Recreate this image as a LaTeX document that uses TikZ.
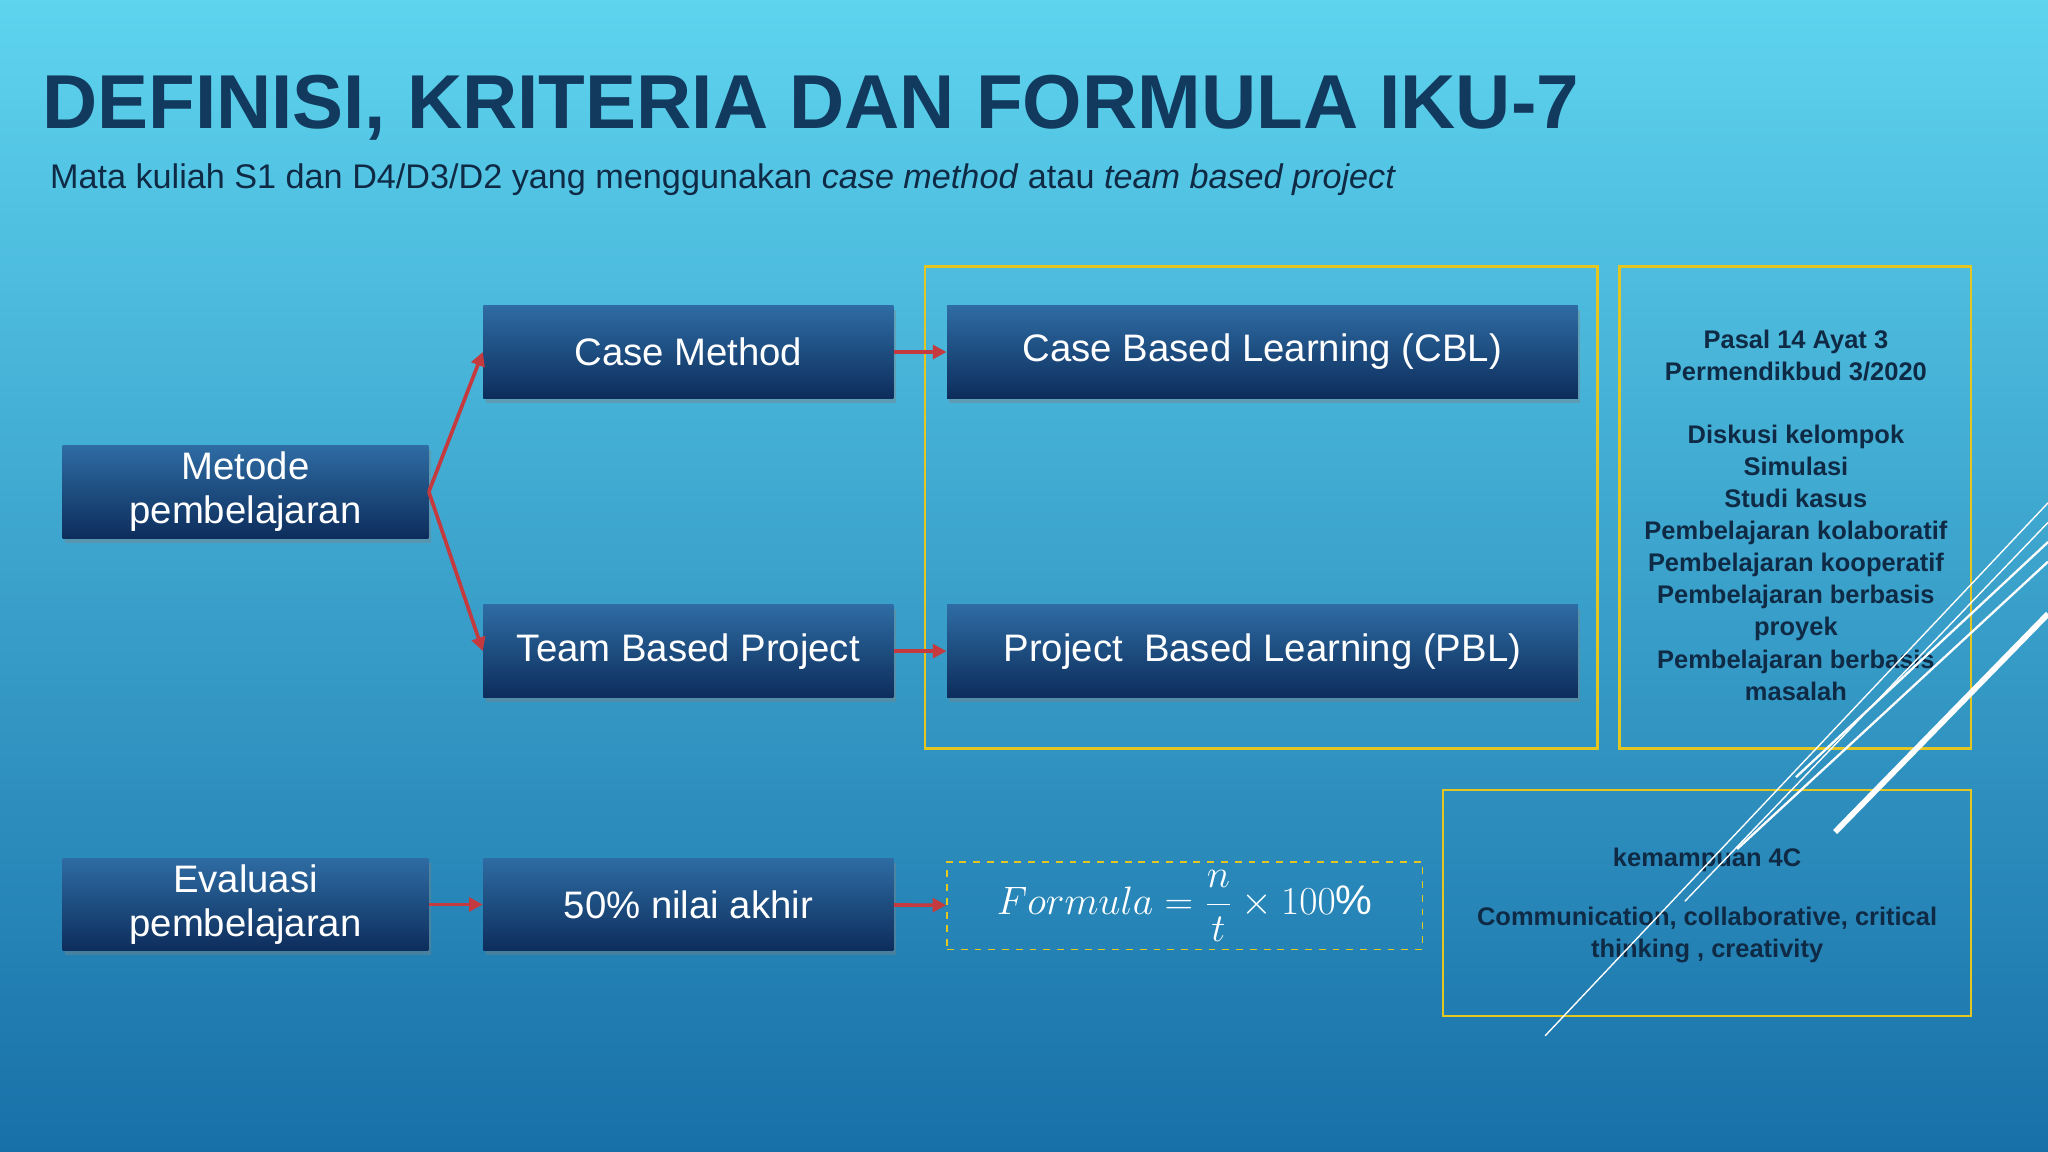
\documentclass[tikz,border=0pt]{standalone}
\usepackage{fontspec}
\setmainfont{Liberation Sans}
\usetikzlibrary{arrows.meta,calc,shadows}
\definecolor{bgtop}{HTML}{5ED4EF}
\definecolor{bgbot}{HTML}{1870A8}
\definecolor{btop}{HTML}{2E6CA3}
\definecolor{bbot}{HTML}{0D2D5C}
\definecolor{navy}{HTML}{113A5E}
\definecolor{arr}{HTML}{C43A3E}
\definecolor{gold}{HTML}{E3C620}
\definecolor{dtext}{HTML}{0F2A45}
\tikzset{
 blk/.style={draw=none,top color=btop,bottom color=bbot,text=white,font=\fontsize{16.7}{19}\selectfont,align=center,inner sep=0pt,drop shadow={opacity=0.4,shadow xshift=1pt,shadow yshift=-2pt}},
 ar/.style={draw=arr,line width=1.6pt,-{Triangle[length=6pt,width=6pt]}},
 ybox/.style={draw=gold,line width=1pt},
 rtext/.style={font=\bfseries\fontsize{11.1}{14}\selectfont,text=dtext,align=center},
 deco/.style={draw=white,line width=0.6pt}
}
\begin{document}
\begin{tikzpicture}[x=0.02cm,y=-0.02cm]
\shade[top color=bgtop,bottom color=bgbot] (0,0) rectangle (1568,882);
\useasboundingbox (0,0) rectangle (1568,882);
\node[anchor=base west,text=navy,font=\bfseries\fontsize{33.3}{36}\selectfont,inner sep=0pt] (title) at (32,98) {DEFINISI, KRITERIA DAN FORMULA IKU-7};
\node[anchor=base west,text=dtext,font=\fontsize{14.9}{16}\selectfont,inner sep=0pt] (sub) at (38,144) {Mata kuliah S1 dan D4/D3/D2 yang menggunakan \textit{case method} atau \textit{team based project}};
\draw[ybox] (708,204) rectangle (1223,573);
\draw[ybox] (1240,204) rectangle (1509,573);
\draw[ybox] (1105,605) rectangle (1509,778);
\node[blk,minimum width=5.6cm,minimum height=1.42cm] (met) at (188,376.5) {Metode\\pembelajaran};
\node[blk,minimum width=6.28cm,minimum height=1.42cm] (cm) at (527,269.5) {Case Method};
\node[blk,minimum width=6.28cm,minimum height=1.42cm] (tbp) at (527,498.5) {Team Based Project};
\node[blk,minimum width=9.66cm,minimum height=1.42cm] (cbl) at (966.5,269.5) {Case Based Learning (CBL)};
\node[blk,minimum width=9.66cm,minimum height=1.42cm] (pbl) at (966.5,498.5) {Project\ \ Based Learning (PBL)};
\node[blk,minimum width=5.6cm,minimum height=1.42cm] (eva) at (188,692.5) {Evaluasi\\pembelajaran};
\node[blk,minimum width=6.28cm,minimum height=1.42cm] (nil) at (527,692.5) {50\% nilai akhir};
\node[draw=gold,dashed,line width=0.6pt,minimum width=7.28cm,minimum height=1.34cm,inner sep=0pt,text=white,font=\fontsize{18}{20}\selectfont] (form) at (907,693.5) {$\displaystyle \mathnormal{Formula}=\frac{n}{t}\times 100\mathrm{\%}$};
\draw[ar] (met.east) -- (cm.west);
\draw[ar] (met.east) -- (tbp.west);
\draw[ar] (cm) -- (cbl);
\draw[ar] (tbp) -- (pbl);
\draw[ar] (eva) -- (nil);
\draw[ar] (nil) -- (form);
\node[rtext] (pasal) at (1375,272) {Pasal 14 Ayat 3\\Permendikbud 3/2020};
\node[rtext,anchor=north] (list) at (1375,319) {Diskusi kelompok\\Simulasi\\Studi kasus\\Pembelajaran kolaboratif\\Pembelajaran kooperatif\\Pembelajaran berbasis\\proyek\\Pembelajaran berbasis\\masalah};
\node[rtext] (k4c) at (1307,658) {kemampuan 4C};
\node[rtext] (comm) at (1307,716) {Communication, collaborative, critical\\thinking , creativity};
\draw[deco] (1183,793) -- (1568,385);
\draw[deco] (1290,690) -- (1568,400);
\draw[deco,line width=1pt] (1375,595) -- (1568,415);
\draw[deco,line width=2.5pt] (1405,637) -- (1568,470);
\draw[deco,line width=1pt] (1330,650) -- (1568,430);
\end{tikzpicture}
\end{document}
